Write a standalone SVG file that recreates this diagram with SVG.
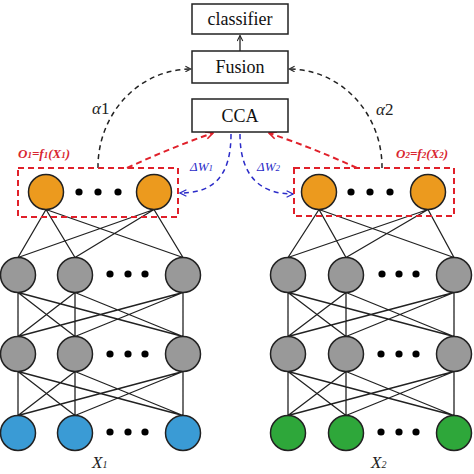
<svg xmlns="http://www.w3.org/2000/svg" width="474" height="474" viewBox="0 0 474 474">
<defs>
<style>
.box{fill:#fff;stroke:#222;stroke-width:1.5}
.bt{font-family:'Liberation Serif','Times New Roman','DejaVu Serif',serif;font-size:18px;fill:#111;text-anchor:middle}
.e{stroke:#222;stroke-width:1.3;fill:none}
.o{fill:#EC9A1E;stroke:#222;stroke-width:1.5}
.g{fill:#999;stroke:#222;stroke-width:1.5}
.b{fill:#3A9BD5;stroke:#222;stroke-width:1.5}
.gr{fill:#2EA73A;stroke:#222;stroke-width:1.5}
.dot{fill:#000}
.kd{stroke:#222;stroke-width:1.5;fill:none;stroke-dasharray:5,4}
.rd{stroke:#E0202A;stroke-width:2;fill:none;stroke-dasharray:6,4}
.bd{stroke:#2B2BC8;stroke-width:1.5;fill:none;stroke-dasharray:5,4}
.rl{font-family:'Liberation Serif','Times New Roman','DejaVu Serif',serif;font-size:13px;font-style:italic;font-weight:bold;fill:#D9262F}
.bl{font-family:'Liberation Serif','Times New Roman','DejaVu Serif',serif;font-size:13px;font-style:italic;fill:#2B2BC8}
.al{font-family:'Liberation Serif','Times New Roman','DejaVu Serif',serif;font-size:17px;fill:#222}
.xl{font-family:'Liberation Serif','Times New Roman','DejaVu Serif',serif;font-size:17px;font-style:italic;fill:#222}
</style>
<marker id="ak" viewBox="0 0 10 10" refX="9" refY="5" markerWidth="7" markerHeight="7" orient="auto" markerUnits="userSpaceOnUse"><path d="M1,1 L9,5 L1,9" fill="none" stroke="#222" stroke-width="1.5"/></marker>
<marker id="ar" viewBox="0 0 10 10" refX="9" refY="5" markerWidth="9" markerHeight="9" orient="auto" markerUnits="userSpaceOnUse"><path d="M1,1 L9,5 L1,9" fill="none" stroke="#E0202A" stroke-width="1.8"/></marker>
<marker id="ab" viewBox="0 0 10 10" refX="9" refY="5" markerWidth="8" markerHeight="8" orient="auto" markerUnits="userSpaceOnUse"><path d="M1,1 L9,5 L1,9" fill="none" stroke="#2B2BC8" stroke-width="1.5"/></marker>
</defs>
<rect width="474" height="474" fill="#fff"/>

<g id="connectors">
  <g class="e">
    <path d="M46,209.5L18,257.5M46,209.5L75,257.5M46,209.5L183,257.5M154,209.5L18,257.5M154,209.5L75,257.5M154,209.5L183,257.5"/>
    <path d="M18,292.5L18,336.5M18,292.5L75,336.5M18,292.5L183,336.5M75,292.5L18,336.5M75,292.5L75,336.5M75,292.5L183,336.5M183,292.5L18,336.5M183,292.5L75,336.5M183,292.5L183,336.5"/>
    <path d="M18,371.5L18,415.5M18,371.5L75,415.5M18,371.5L183,415.5M75,371.5L18,415.5M75,371.5L75,415.5M75,371.5L183,415.5M183,371.5L18,415.5M183,371.5L75,415.5M183,371.5L183,415.5"/>
  </g>
  <g class="e">
    <path d="M319,209.5L288,257.5M319,209.5L346,257.5M319,209.5L454,257.5M428,209.5L288,257.5M428,209.5L346,257.5M428,209.5L454,257.5"/>
    <path d="M288,292.5L288,336.5M288,292.5L346,336.5M288,292.5L454,336.5M346,292.5L288,336.5M346,292.5L346,336.5M346,292.5L454,336.5M454,292.5L288,336.5M454,292.5L346,336.5M454,292.5L454,336.5"/>
    <path d="M288,371.5L288,415.5M288,371.5L346,415.5M288,371.5L454,415.5M346,371.5L288,415.5M346,371.5L346,415.5M346,371.5L454,415.5M454,371.5L288,415.5M454,371.5L346,415.5M454,371.5L454,415.5"/>
  </g>
  <path class="e" d="M240,51 L240,35.5" marker-end="url(#ak)"/>
  <path class="kd" d="M98,168 A93,98 0 0 1 191,69" marker-end="url(#ak)"/>
  <path class="kd" d="M382,168 A93,98 0 0 0 289,69" marker-end="url(#ak)"/>
  <path class="rd" d="M127,168 Q170,148 213,133" marker-end="url(#ar)"/>
  <path class="rd" d="M357,168 Q313,148 269,133" marker-end="url(#ar)"/>
  <path class="bd" d="M231,134 C231,178 212,193 180,193" marker-end="url(#ab)"/>
  <path class="bd" d="M240,134 C240,178 262,194 293,194" marker-end="url(#ab)"/>
</g>

<g id="classifier"><rect class="box" x="192" y="4" width="96" height="30"/><text class="bt" x="240" y="25">classifier</text></g>
<g id="fusion"><rect class="box" x="192" y="51" width="96" height="32"/><text class="bt" x="240" y="73">Fusion</text></g>
<g id="cca"><rect class="box" x="192" y="99" width="96" height="33"/><text class="bt" x="240" y="122">CCA</text></g>

<g id="output1">
  <rect x="18" y="168" width="160" height="49" fill="none" class="rd"/>
  <circle class="o" cx="46" cy="192" r="17.5"/>
  <circle class="o" cx="154" cy="192" r="17.5"/>
  <circle class="dot" cx="79" cy="192" r="3.6"/><circle class="dot" cx="98" cy="192" r="3.6"/><circle class="dot" cx="118" cy="192" r="3.6"/>
  <text class="rl" x="18" y="158">O<tspan font-size="9">1</tspan>=f<tspan font-size="9">1</tspan>(X<tspan font-size="9">1</tspan>)</text>
</g>
<g id="output2">
  <rect x="294" y="168" width="160" height="48" fill="none" class="rd"/>
  <circle class="o" cx="319" cy="192" r="17.5"/>
  <circle class="o" cx="428" cy="192" r="17.5"/>
  <circle class="dot" cx="351" cy="192" r="3.6"/><circle class="dot" cx="370" cy="192" r="3.6"/><circle class="dot" cx="390" cy="192" r="3.6"/>
  <text class="rl" x="396" y="158">O<tspan font-size="9">2</tspan>=f<tspan font-size="9">2</tspan>(X<tspan font-size="9">2</tspan>)</text>
</g>

<g id="hidden1a">
  <circle class="g" cx="18" cy="275" r="17.5"/><circle class="g" cx="75" cy="275" r="17.5"/><circle class="g" cx="183" cy="275" r="17.5"/>
  <circle class="dot" cx="110" cy="274" r="3.6"/><circle class="dot" cx="128" cy="274" r="3.6"/><circle class="dot" cx="145" cy="274" r="3.6"/>
</g>
<g id="hidden1b">
  <circle class="g" cx="18" cy="354" r="17.5"/><circle class="g" cx="75" cy="354" r="17.5"/><circle class="g" cx="183" cy="354" r="17.5"/>
  <circle class="dot" cx="110" cy="354" r="3.6"/><circle class="dot" cx="128" cy="354" r="3.6"/><circle class="dot" cx="145" cy="354" r="3.6"/>
</g>
<g id="input1">
  <circle class="b" cx="18" cy="433" r="17.5"/><circle class="b" cx="75" cy="433" r="17.5"/><circle class="b" cx="183" cy="433" r="17.5"/>
  <circle class="dot" cx="110" cy="432" r="3.6"/><circle class="dot" cx="128" cy="432" r="3.6"/><circle class="dot" cx="145" cy="432" r="3.6"/>
  <text class="xl" x="92" y="468">X<tspan font-size="10">1</tspan></text>
</g>

<g id="hidden2a">
  <circle class="g" cx="288" cy="275" r="17.5"/><circle class="g" cx="346" cy="275" r="17.5"/><circle class="g" cx="454" cy="275" r="17.5"/>
  <circle class="dot" cx="382" cy="274" r="3.6"/><circle class="dot" cx="399" cy="274" r="3.6"/><circle class="dot" cx="416" cy="274" r="3.6"/>
</g>
<g id="hidden2b">
  <circle class="g" cx="288" cy="354" r="17.5"/><circle class="g" cx="346" cy="354" r="17.5"/><circle class="g" cx="454" cy="354" r="17.5"/>
  <circle class="dot" cx="381" cy="354" r="3.6"/><circle class="dot" cx="399" cy="354" r="3.6"/><circle class="dot" cx="416" cy="354" r="3.6"/>
</g>
<g id="input2">
  <circle class="gr" cx="288" cy="433" r="17.5"/><circle class="gr" cx="346" cy="433" r="17.5"/><circle class="gr" cx="454" cy="433" r="17.5"/>
  <circle class="dot" cx="381" cy="432" r="3.6"/><circle class="dot" cx="399" cy="432" r="3.6"/><circle class="dot" cx="416" cy="432" r="3.6"/>
  <text class="xl" x="371" y="468">X<tspan font-size="10">2</tspan></text>
</g>

<g id="labels">
  <text class="al" x="92" y="114"><tspan font-style="italic">α</tspan>1</text>
  <text class="al" x="376" y="115"><tspan font-style="italic">α</tspan>2</text>
  <text class="bl" x="190" y="171">ΔW<tspan font-size="9">1</tspan></text>
  <text class="bl" x="257" y="171">ΔW<tspan font-size="9">2</tspan></text>
</g>
</svg>
